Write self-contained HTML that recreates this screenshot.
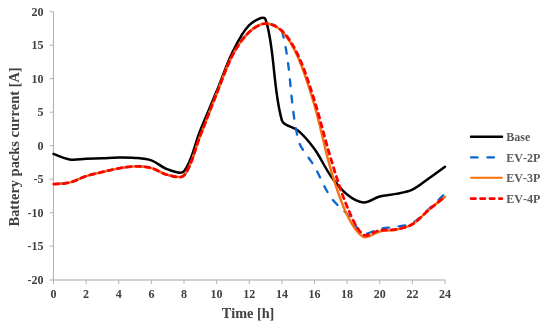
<!DOCTYPE html>
<html><head><meta charset="utf-8"><style>
html,body{margin:0;padding:0;background:#fff;}
body{width:550px;height:327px;overflow:hidden;}
svg{display:block;}
text{font-family:"Liberation Serif","Times New Roman",serif;font-weight:bold;font-size:12px;fill:#404040;font-kerning:none;}
text.t{font-size:13.5px;}
text.l{font-size:12px;fill:#595959;}
</style></head><body>
<svg width="550" height="327" viewBox="0 0 550 327">
<path d="M53.5,11.699999999999989 V280" fill="none" stroke="#b3b3b3" stroke-width="1.1"/>
<path d="M49.5,280 H445.0" fill="none" stroke="#a6a6a6" stroke-width="1.1"/>
<path d="M49.5,246.2 H53.5 M49.5,212.7 H53.5 M49.5,179.2 H53.5 M49.5,145.7 H53.5 M49.5,112.19999999999999 H53.5 M49.5,78.69999999999999 H53.5 M49.5,45.19999999999999 H53.5 M49.5,11.699999999999989 H53.5 M53.5,280 V284 M86.125,280 V284 M118.75,280 V284 M151.375,280 V284 M184.0,280 V284 M216.625,280 V284 M249.25,280 V284 M281.875,280 V284 M314.5,280 V284 M347.125,280 V284 M379.75,280 V284 M412.375,280 V284 M445.0,280 V284" fill="none" stroke="#b3b3b3" stroke-width="1"/>
<text x="43.6" y="283.90" text-anchor="end">-20</text>
<text x="43.6" y="250.40" text-anchor="end">-15</text>
<text x="43.6" y="216.90" text-anchor="end">-10</text>
<text x="43.6" y="183.40" text-anchor="end">-5</text>
<text x="43.6" y="149.90" text-anchor="end">0</text>
<text x="43.6" y="116.40" text-anchor="end">5</text>
<text x="43.6" y="82.90" text-anchor="end">10</text>
<text x="43.6" y="49.40" text-anchor="end">15</text>
<text x="43.6" y="15.90" text-anchor="end">20</text>
<text x="53.50" y="297.6" text-anchor="middle">0</text>
<text x="86.12" y="297.6" text-anchor="middle">2</text>
<text x="118.75" y="297.6" text-anchor="middle">4</text>
<text x="151.38" y="297.6" text-anchor="middle">6</text>
<text x="184.00" y="297.6" text-anchor="middle">8</text>
<text x="216.62" y="297.6" text-anchor="middle">10</text>
<text x="249.25" y="297.6" text-anchor="middle">12</text>
<text x="281.88" y="297.6" text-anchor="middle">14</text>
<text x="314.50" y="297.6" text-anchor="middle">16</text>
<text x="347.12" y="297.6" text-anchor="middle">18</text>
<text x="379.75" y="297.6" text-anchor="middle">20</text>
<text x="412.38" y="297.6" text-anchor="middle">22</text>
<text x="445.00" y="297.6" text-anchor="middle">24</text>
<text class="t" transform="translate(248,318.2)" x="0" y="0" text-anchor="middle" style="font-size:14.25px">Time [h]</text>
<text class="t" transform="translate(19.0,146.9) rotate(-90) scale(1,1.06)" text-anchor="middle" style="font-size:14.45px">Battery packs current [A]</text>
<path d="M53.50,153.95 C58.87,156.29 64.23,158.63 69.81,159.45 C75.11,160.22 80.69,158.93 86.12,158.72 C91.56,158.50 97.00,158.37 102.44,158.17 C107.88,157.96 113.31,157.54 118.75,157.49 C124.19,157.45 129.66,157.41 135.06,157.89 C140.53,158.38 146.27,158.60 151.38,160.40 C157.14,162.43 161.91,167.46 167.69,169.40 C172.78,171.10 181.05,174.85 184.00,171.31 C191.92,161.82 194.76,143.94 200.31,130.32 C205.63,117.27 211.24,104.34 216.62,91.32 C222.12,78.02 226.60,64.22 232.94,51.36 C237.48,42.15 242.28,31.94 249.25,25.10 C253.15,21.28 263.99,14.80 265.56,19.38 C274.86,46.53 272.73,89.12 281.88,120.31 C283.60,126.21 293.40,126.44 298.19,130.65 C304.28,136.02 309.73,142.43 314.50,149.05 C320.60,157.52 324.72,167.45 330.81,175.92 C335.60,182.58 340.85,189.38 347.12,194.46 C351.73,198.20 357.88,202.05 363.44,202.39 C368.76,202.71 374.18,197.88 379.75,196.43 C385.05,195.04 390.68,194.99 396.06,193.87 C401.56,192.72 407.37,191.96 412.38,189.59 C418.24,186.82 423.30,182.25 428.69,178.47 C434.18,174.62 439.59,170.66 445.00,166.70" fill="none" stroke="#000000" stroke-width="2.5" stroke-linecap="round" stroke-linejoin="round"/>
<path d="M53.50,184.05 C59.03,183.89 64.55,183.73 69.81,182.45 C75.43,181.09 80.58,177.91 86.12,176.13 C91.46,174.42 96.98,173.29 102.44,171.98 C107.86,170.69 113.27,169.28 118.75,168.33 C124.14,167.39 129.62,166.38 135.06,166.33 C140.49,166.28 146.15,166.67 151.38,168.04 C157.02,169.53 162.03,173.65 167.69,174.93 C172.90,176.11 181.01,179.04 184.00,175.43 C191.89,165.91 194.98,148.87 200.31,135.52 C205.86,121.63 211.04,107.58 216.62,93.70 C221.92,80.54 226.36,66.86 232.94,54.39 C237.24,46.24 242.67,38.01 249.25,31.85 C253.55,27.83 260.06,24.02 265.56,23.84 C270.93,23.67 280.36,25.43 281.88,30.79 C291.24,63.99 289.74,104.36 298.19,139.51 C300.61,149.60 309.33,157.36 314.50,166.52 C320.21,176.64 324.31,187.84 330.81,197.34 C335.19,203.74 341.87,208.41 347.12,214.20 C352.75,220.40 356.94,230.41 363.44,233.31 C367.82,235.26 374.23,229.84 379.75,228.75 C385.10,227.68 390.68,227.77 396.06,226.84 C401.55,225.88 407.61,225.67 412.38,223.08 C418.48,219.77 423.38,213.94 428.69,209.15 C434.26,204.12 439.63,198.86 445.00,193.60" fill="none" stroke="#0a66cc" stroke-width="2.3" stroke-linecap="round" stroke-linejoin="round" stroke-dasharray="6.6 9.73" stroke-dashoffset="-4.66"/>
<path d="M53.50,184.08 C59.03,183.90 64.55,183.73 69.81,182.45 C75.43,181.08 80.58,177.91 86.12,176.13 C91.46,174.42 96.98,173.28 102.44,171.98 C107.86,170.68 113.27,169.28 118.75,168.33 C124.14,167.39 129.62,166.38 135.06,166.33 C140.49,166.28 146.15,166.67 151.38,168.04 C157.02,169.53 162.03,173.64 167.69,174.93 C172.90,176.11 181.01,179.04 184.00,175.43 C191.89,165.90 194.98,148.87 200.31,135.52 C205.86,121.63 211.05,107.60 216.62,93.72 C221.92,80.54 226.34,66.83 232.94,54.36 C237.22,46.26 242.72,38.18 249.25,32.01 C253.59,27.92 260.07,23.69 265.56,23.55 C270.94,23.41 277.89,27.01 281.88,31.18 C288.77,38.40 294.04,48.27 298.19,57.72 C304.91,73.04 309.79,89.36 314.50,105.51 C320.67,126.65 324.52,148.49 330.81,169.59 C335.40,184.99 340.19,200.67 347.12,215.00 C351.06,223.13 356.76,233.59 363.44,236.98 C367.63,239.11 374.19,232.81 379.75,231.57 C385.06,230.40 390.76,230.94 396.06,229.75 C401.63,228.50 407.56,227.16 412.38,224.24 C418.44,220.55 423.15,214.57 428.69,209.92 C434.02,205.44 439.51,201.14 445.00,196.83" fill="none" stroke="#f6720f" stroke-width="2.4" stroke-linecap="round" stroke-linejoin="round"/>
<path d="M53.50,184.08 C59.03,183.90 64.55,183.73 69.81,182.45 C75.43,181.08 80.58,177.91 86.12,176.13 C91.46,174.42 96.98,173.28 102.44,171.98 C107.86,170.68 113.27,169.28 118.75,168.33 C124.14,167.39 129.62,166.38 135.06,166.33 C140.49,166.28 146.15,166.67 151.38,168.04 C157.02,169.53 162.03,173.64 167.69,174.93 C172.90,176.11 181.01,179.04 184.00,175.43 C191.89,165.90 194.98,148.87 200.31,135.52 C205.86,121.63 211.05,107.60 216.62,93.72 C221.92,80.55 226.35,66.84 232.94,54.37 C237.22,46.26 242.71,38.17 249.25,32.00 C253.58,27.91 260.05,23.81 265.56,23.61 C270.92,23.41 277.79,26.79 281.88,30.78 C288.66,37.42 294.05,46.61 298.19,55.49 C304.92,69.94 309.66,85.49 314.50,100.78 C320.54,119.86 324.92,139.45 330.81,158.58 C335.79,174.73 340.50,191.14 347.12,206.61 C351.37,216.52 356.28,229.52 363.44,234.73 C367.16,237.44 374.22,231.25 379.75,230.35 C385.10,229.48 390.75,230.41 396.06,229.42 C401.62,228.38 407.59,227.15 412.38,224.28 C418.46,220.64 423.14,214.57 428.69,209.91 C434.02,205.42 439.51,201.13 445.00,196.83" fill="none" stroke="#ff0000" stroke-width="2.8" stroke-linecap="round" stroke-linejoin="round" stroke-dasharray="4.6 4.76" stroke-dashoffset="-0.42"/>
<path d="M471,136.7 H502" fill="none" stroke="#000000" stroke-width="2.5" stroke-linecap="round"/>
<text class="l" x="506.3" y="141.0">Base</text>
<path d="M471,157.4 H502" fill="none" stroke="#0a66cc" stroke-width="2.2" stroke-linecap="round" stroke-dasharray="6.6 9.8"/>
<text class="l" x="506.3" y="161.7">EV-2P</text>
<path d="M471,177.8 H502" fill="none" stroke="#f6720f" stroke-width="2.0" stroke-linecap="round"/>
<text class="l" x="506.3" y="182.1">EV-3P</text>
<path d="M471,198.6 H502" fill="none" stroke="#ff0000" stroke-width="2.6" stroke-linecap="round" stroke-dasharray="4.6 4.8"/>
<text class="l" x="506.3" y="202.9">EV-4P</text>
</svg>
</body></html>
